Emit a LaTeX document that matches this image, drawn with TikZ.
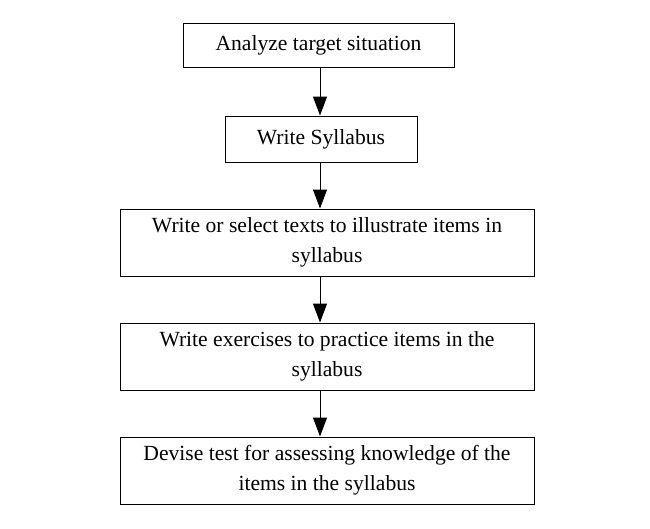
\documentclass[tikz,border=0pt]{standalone}
\usepackage{fontspec}
\setmainfont{Liberation Serif}
\usetikzlibrary{arrows.meta}
\begin{document}
\begin{tikzpicture}[x=1pt,y=-1pt,
  box/.style={draw=black,line width=1pt,inner sep=0pt,align=center,
    font=\fontsize{21.6}{30}\selectfont},
  arr/.style={line width=1pt,-{Triangle[width=14pt,length=19pt]}}]
\useasboundingbox (0,0) rectangle (650,528);
\node[box,minimum width=271pt,minimum height=44pt] (b1) at (318.5,45) {Analyze target situation};
\node[box,minimum width=192pt,minimum height=46pt] (b2) at (321,139) {Write Syllabus};
\node[box,minimum width=414pt,minimum height=67pt] (b3) at (327,242.5) {Write or select texts to illustrate items in\\syllabus};
\node[box,minimum width=414pt,minimum height=67pt] (b4) at (327,356.5) {Write exercises to practice items in the\\syllabus};
\node[box,minimum width=414pt,minimum height=67pt] (b5) at (327,470.5) {Devise test for assessing knowledge of the\\items in the syllabus};
\coordinate (ax) at (320,0);
\draw[arr] (b1.south -| ax) -- (b2.north -| ax);
\draw[arr] (b2.south -| ax) -- (b3.north -| ax);
\draw[arr] (b3.south -| ax) -- (b4.north -| ax);
\draw[arr] (b4.south -| ax) -- (b5.north -| ax);
\end{tikzpicture}
\end{document}
